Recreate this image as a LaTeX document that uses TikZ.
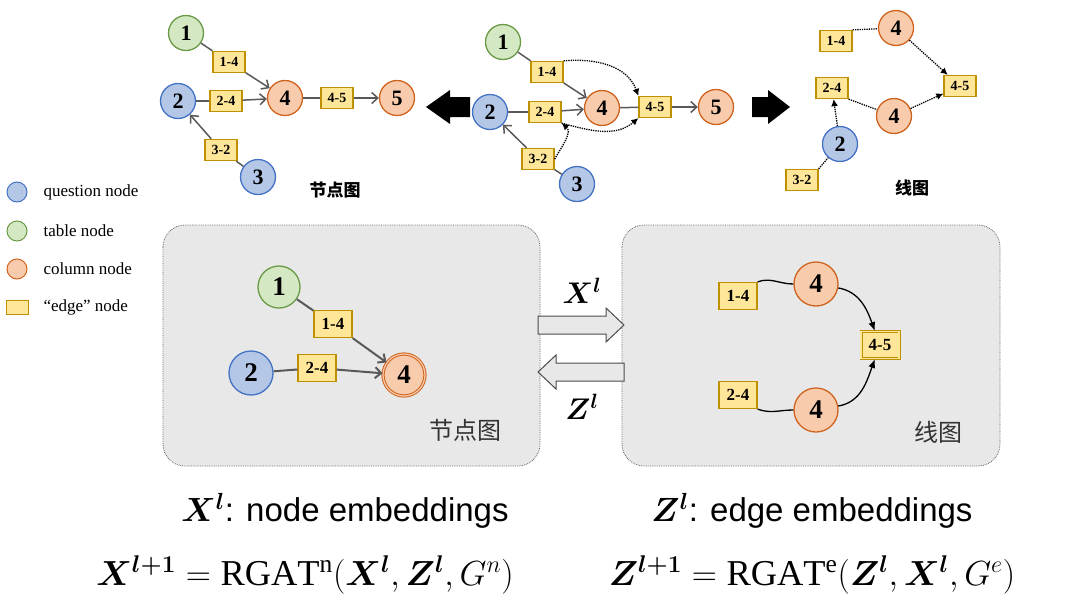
\documentclass[tikz,border=0pt]{standalone}
\usepackage{fontspec}
\usepackage{amsmath,bm,graphicx}
\setmainfont{Liberation Serif}
\newfontfamily\cjk{Noto Sans CJK SC}
\newfontfamily\sans{Liberation Sans}
\usetikzlibrary{arrows.meta}
\definecolor{gF}{HTML}{D5E8C4}\definecolor{gD}{HTML}{6A9A45}
\definecolor{bF}{HTML}{B4C7E7}\definecolor{bD}{HTML}{4472C4}
\definecolor{oF}{HTML}{F8CBAD}\definecolor{oD}{HTML}{D0641E}
\definecolor{yF}{HTML}{FFE699}\definecolor{yD}{HTML}{BF9000}
\definecolor{panel}{HTML}{E8E8E8}
\tikzset{x=1pt,y=-1pt,
 cn/.style={circle,draw,line width=1.3pt,inner sep=0pt,minimum size=#1,font=\bfseries\fontsize{22}{22}\selectfont},
 cn/.default=35pt,
 g/.style={cn=#1,fill=gF,draw=gD},g/.default=35pt,
 b/.style={cn=#1,fill=bF,draw=bD},b/.default=35pt,
 o/.style={cn=#1,fill=oF,draw=oD},o/.default=35pt,
 e/.style={draw=yD,fill=yF,line width=1.3pt,inner sep=2pt,minimum width=32pt,minimum height=21pt,font=\bfseries\fontsize{14}{14}\selectfont},
 E/.style={e,minimum width=38pt,minimum height=27pt,font=\bfseries\fontsize{17}{17}\selectfont},
 ln/.style={draw=black!65,line width=1.5pt},
 ar/.style={ln,-{Straight Barb[length=6pt,width=11pt]}},
 dt/.style={densely dotted,line width=1.3pt,-{Latex[length=7pt,width=7pt]}},
 ds/.style={densely dotted,line width=1.3pt},
 blk/.style={fill=black},
 hol/.style={fill=panel,draw=black!70,line width=1pt},
 pan/.style={draw=black!60,densely dotted,fill=panel,rounded corners=22pt,line width=0.8pt},
 leg/.style={anchor=west,font=\fontsize{17}{17}\selectfont}
}
\begin{document}
\begin{tikzpicture}
\useasboundingbox (0,0) rectangle (1080,606);
% ---- top left graph
\node[g] (a1) at (186,33) {1};
\node[e] (a14) at (229,62) {1-4};
\node[b] (a2) at (178,101) {2};
\node[e] (a24) at (226,101) {2-4};
\node[o] (a4) at (285,98) {4};
\node[e] (a45) at (337,98) {4-5};
\node[o] (a5) at (397,98) {5};
\node[e] (a32) at (221,150) {3-2};
\node[b] (a3) at (258,177) {3};
\draw[ln] (a1)--(a14); \draw[ar] (a14)--(a4);
\draw[ln] (a2)--(a24); \draw[ar] (a24)--(a4);
\draw[ln] (a4)--(a45); \draw[ar] (a45)--(a5);
\draw[ln] (a3)--(a32); \draw[ar] (a32)--(a2);
\node[font=\cjk\bfseries\fontsize{17}{17}\selectfont] (t1) at (335,190) {节点图};
\fill[blk] (426,107)--(450,90)--(450,97)--(470,97)--(470,117)--(450,117)--(450,124)--cycle;
% ---- top middle graph
\node[g] (m1) at (503,42) {1};
\node[e] (m14) at (547,72) {1-4};
\node[b] (m2) at (490,112) {2};
\node[e] (m24) at (545,112) {2-4};
\node[o] (m4) at (602,108) {4};
\node[e] (m45) at (655,107) {4-5};
\node[o] (m5) at (716,107) {5};
\node[e] (m32) at (538,159) {3-2};
\node[b] (m3) at (577,184) {3};
\draw[ln] (m1)--(m14); \draw[ar] (m14)--(m4);
\draw[ln] (m2)--(m24); \draw[ar] (m24)--(m4);
\draw[ln] (m4)--(m45); \draw[ar] (m45)--(m5);
\draw[ln] (m3)--(m32); \draw[ar] (m32)--(m2);
\draw[dt] (m14.north east) to[out=5,in=110] (m45.north west);
\draw[dt] (m24.south east) to[out=-15,in=-140] (m45.south west);
\draw[dt] (m32.east) to[out=60,in=-40] (m24.south east);
\fill[blk] (790,107)--(768,90)--(768,97)--(752,97)--(752,117)--(768,117)--(768,124)--cycle;
% ---- top right line graph
\node[e] (r14) at (836,41) {1-4};
\node[o] (r4a) at (896,28) {4};
\node[e] (r45) at (960,86) {4-5};
\node[e] (r24) at (832,88) {2-4};
\node[o] (r4b) at (894,116) {4};
\node[b] (r2) at (840,144) {2};
\node[e] (r32) at (802,180) {3-2};
\draw[ds] (r14.north east)--(r4a);
\draw[dt] (r4a)--(r45);
\draw[ds] (r24.south east)--(r4b);
\draw[dt] (r4b)--(r45);
\draw[dt] (r2)--(r24);
\draw[ds] (r32.north east)--(r2);
\node[font=\cjk\bfseries\fontsize{17}{17}\selectfont] (t2) at (912,188) {线图};
% ---- legend
\node[b=20pt,line width=1pt] (l1) at (17,192) {};
\node[g=20pt,line width=1pt] (l2) at (17,231) {};
\node[o=20pt,line width=1pt] (l3) at (17,269) {};
\node[draw=yD,fill=yF,line width=1pt,minimum width=22pt,minimum height=14pt,inner sep=0pt] (l4) at (17,307) {};
\node[leg] (lt1) at (40,192) {question node};
\node[leg] (lt2) at (40,231) {table node};
\node[leg] (lt3) at (40,269) {column node};
\node[leg] (lt4) at (40,307) {``edge'' node};
% ---- panels
\path[pan] (163,225) rectangle (540,466);
\path[pan] (622,225) rectangle (1000,466);
\node[g=42pt,font=\bfseries\fontsize{27}{27}\selectfont] (p1) at (279,287) {1};
\node[E] (p14) at (333,324) {1-4};
\node[b=44pt,font=\bfseries\fontsize{27}{27}\selectfont] (p2) at (251,373) {2};
\node[E] (p24) at (317,368) {2-4};
\node[o=42pt,font=\bfseries\fontsize{27}{27}\selectfont,double=oF,double distance=1.2pt,draw=oD,line width=1pt] (p4) at (404,375) {4};
\draw[ln,line width=2pt] (p1)--(p14); \draw[ar,line width=2pt] (p14)--(p4);
\draw[ln,line width=2pt] (p2)--(p24); \draw[ar,line width=2pt] (p24)--(p4);
\node[font=\cjk\fontsize{24}{24}\selectfont,text=black!80] (t3) at (465,430) {节点图};
\node[E] (q14) at (738,296) {1-4};
\node[o=44pt,font=\bfseries\fontsize{27}{27}\selectfont] (q4a) at (816,284) {4};
\node[E,double=yF,double distance=1.2pt,line width=0.9pt] (q45) at (880,345) {4-5};
\node[E] (q24) at (738,395) {2-4};
\node[o=44pt,font=\bfseries\fontsize{27}{27}\selectfont] (q4b) at (816,410) {4};
\draw[line width=1.3pt] (q14.north east) to[out=20,in=180] (q4a);
\draw[line width=1.3pt] (q24.south east) to[out=-20,in=180] (q4b);
\draw[line width=1.3pt,-{Latex[length=9pt,width=7pt]}] (q4a) to[out=-10,in=110] (q45);
\draw[line width=1.3pt,-{Latex[length=9pt,width=7pt]}] (q4b) to[out=10,in=-110] (q45);
\node[font=\cjk\fontsize{24}{24}\selectfont,text=black!80] (t4) at (938,432) {线图};
% ---- hollow arrows
\draw[hol] (624,325)--(606,308)--(606,316)--(538,316)--(538,334)--(606,334)--(606,342)--cycle;
\draw[hol] (538,372)--(556,355)--(556,363)--(624,363)--(624,381)--(556,381)--(556,389)--cycle;
\node (xl) at (582,291) {\scalebox{1.2}{\fontsize{26}{26}\selectfont$\bm{X^{l}}$}};
\node (zl) at (582,407) {\scalebox{1.2}{\fontsize{26}{26}\selectfont$\bm{Z^{l}}$}};
% ---- bottom text
\node[font=\fontsize{33}{33}\selectfont] (b1) at (345,511) {\scalebox{1.35}{\fontsize{26}{26}\selectfont$\bm{X^{l}}$}\sans: node embeddings};
\node[font=\fontsize{33}{33}\selectfont] (b2) at (812,511) {\scalebox{1.35}{\fontsize{26}{26}\selectfont$\bm{Z^{l}}$}\sans: edge embeddings};
\node (f1) at (305,575) {\scalebox{1.4}{\fontsize{26}{26}\selectfont$\bm{X^{l+1}}=\mathrm{RGAT^{n}}(\bm{X^{l}},\bm{Z^{l}},G^{n})$}};
\node (f2) at (812,575) {\scalebox{1.4}{\fontsize{26}{26}\selectfont$\bm{Z^{l+1}}=\mathrm{RGAT^{e}}(\bm{Z^{l}},\bm{X^{l}},G^{e})$}};
\end{tikzpicture}
\end{document}
